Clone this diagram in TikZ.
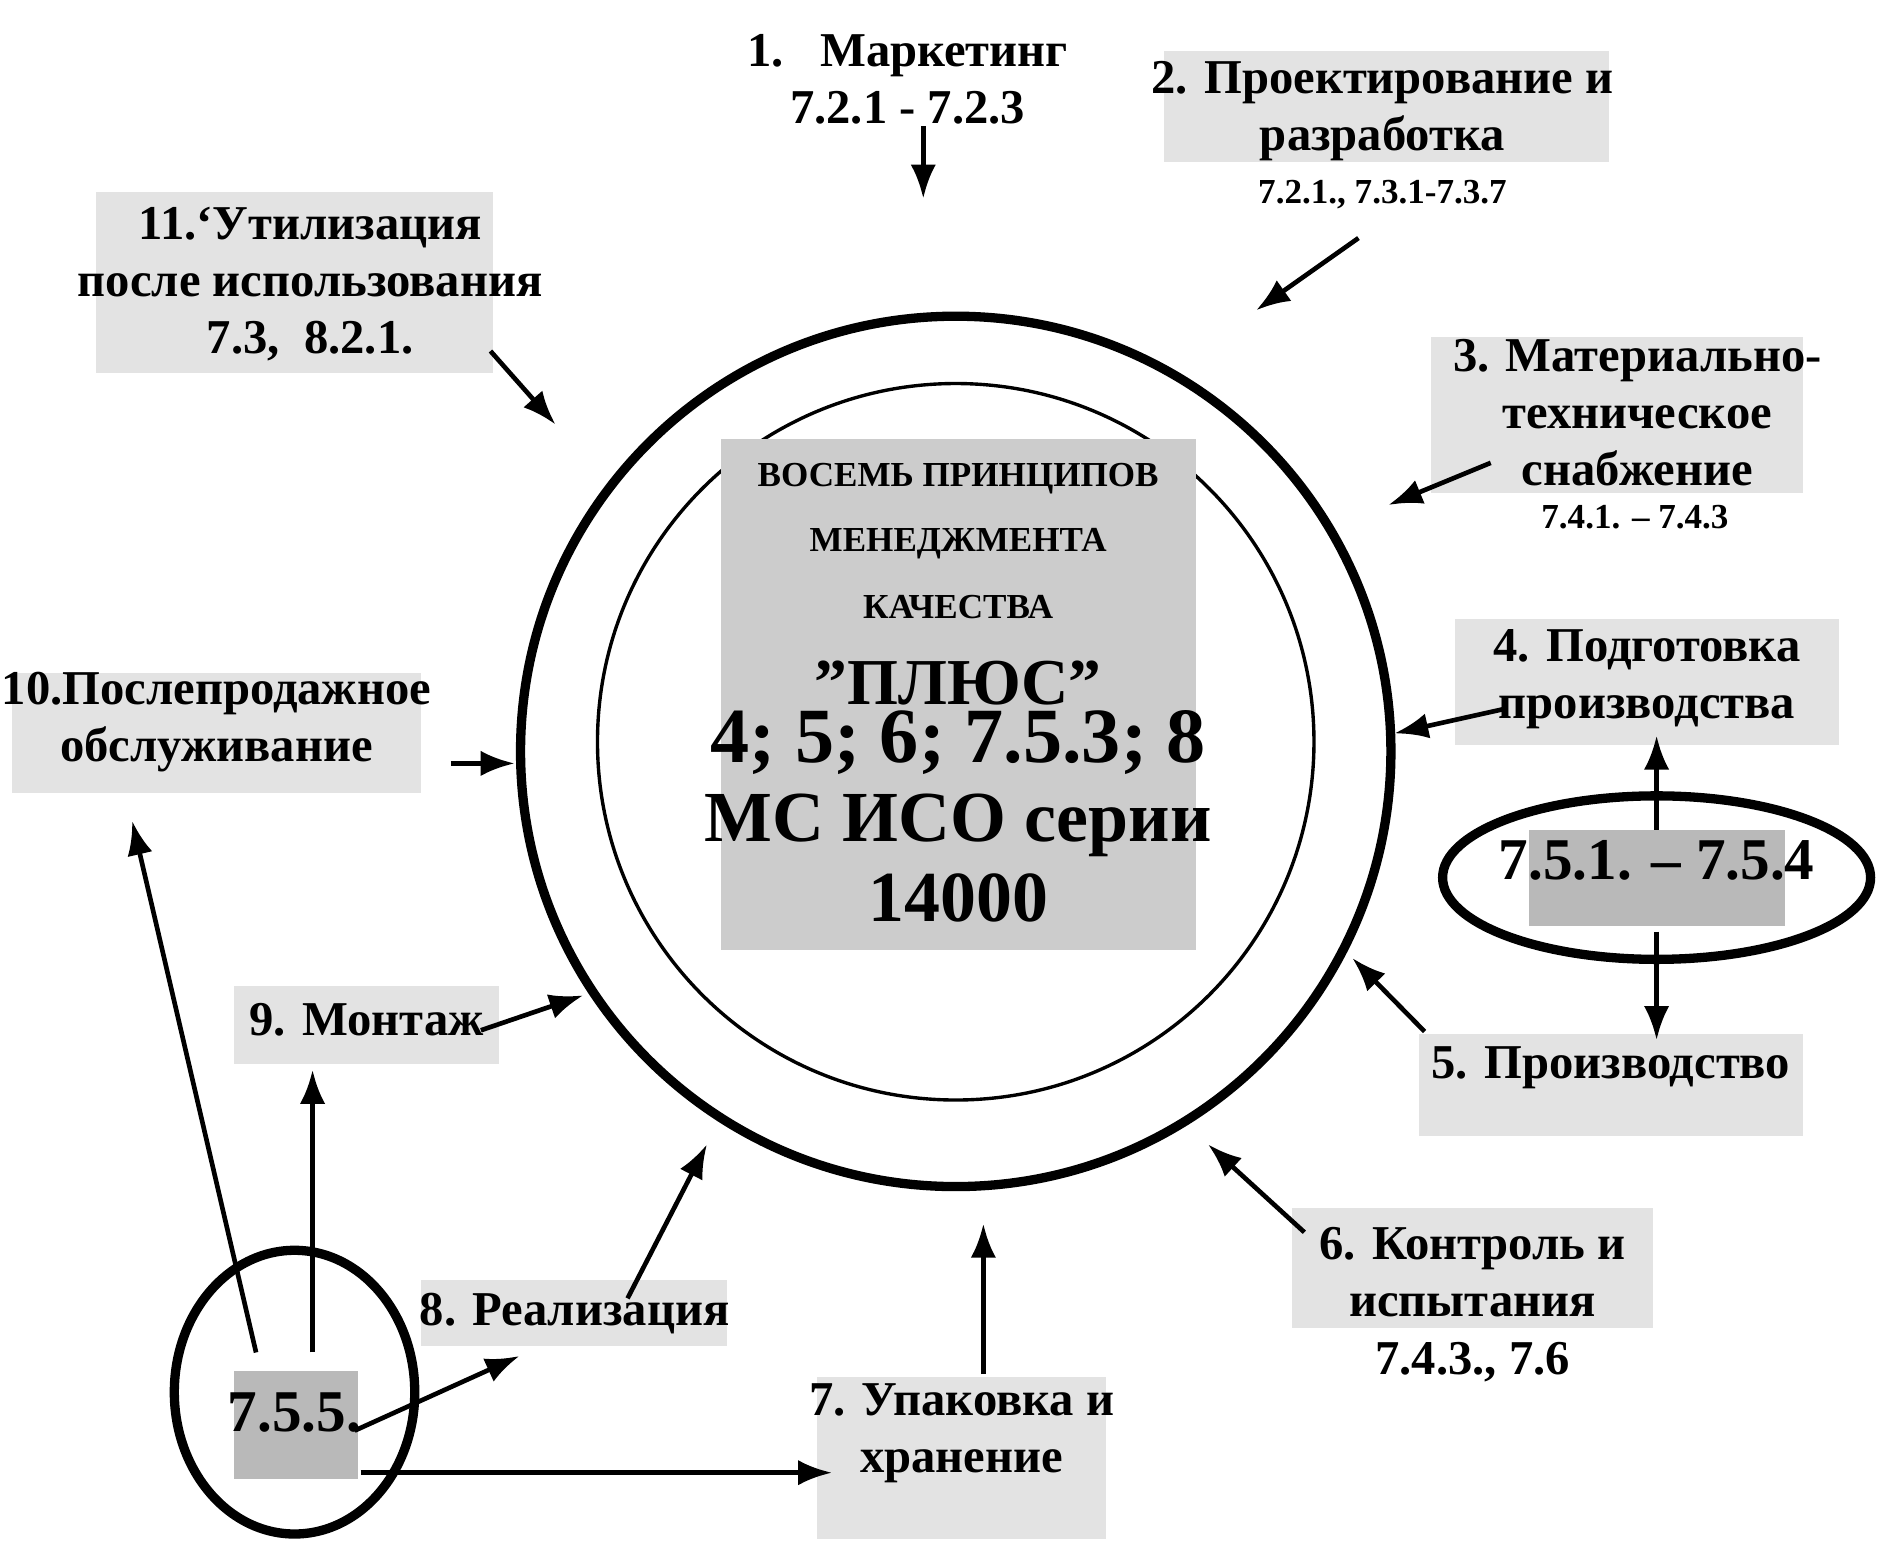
\documentclass[tikz,border=0pt]{standalone}
\usepackage{fontspec}
\setmainfont{Liberation Serif}
\usetikzlibrary{arrows.meta, positioning}

\begin{document}
\begin{tikzpicture}[x=0.01cm, y=-0.01cm, font=\fontsize{11.5}{13.5}\selectfont\bfseries,
  lbl/.style={align=center, inner sep=2pt},
  shade/.style={fill=gray!22},
  small/.style={align=center, font=\fontsize{8.3}{10}\selectfont\bfseries},
  arr/.style={-{Latex[length=8pt,width=6pt]}, line width=1.1pt}]

            \useasboundingbox (0,0) rectangle (1563,1301.5);

            % circles
            \draw[line width=2.2pt] (795,625) circle (362);
            \draw[line width=0.8pt] (795,617) circle (298);
            \fill[gray!40] (600,365) rectangle (995,790);
            \node[small] (p1) at (797,398) {ВОСЕМЬ ПРИНЦИПОВ};
            \node[small] (p2) at (797,452) {МЕНЕДЖМЕНТА};
            \node[small] (p3) at (797,505) {КАЧЕСТВА};
            \node[font=\fontsize{15.5}{17}\selectfont\bfseries] (plus) at (797,568) {\symbol{34}ПЛЮС\symbol{34}};
            \node[font=\fontsize{18.5}{20}\selectfont\bfseries] (nums) at (797,618) {4; 5; 6; 7.5.3; 8};
            \node[font=\fontsize{17}{19}\selectfont\bfseries, align=center] (iso) at (797,714) {МС ИСО серии\\14000};

            % labels
            \node[lbl] (L1) at (755,66) {1.\ \ \ Маркетинг\\7.2.1 - 7.2.3};
            \fill[shade] (968,42) rectangle (1338,135);
            \node[lbl] (L2) at (1150,92) {2. Проектирование и\\разработка};
            \node[small] (L2n) at (1150,162) {7.2.1., 7.3.1-7.3.7};
            \fill[shade] (1190,280) rectangle (1500,410);
            \node[lbl] (L3) at (1362,343) {3. Материально-\\техническое\\снабжение};
            \node[small] (L3n) at (1360,430) {7.4.1. -- 7.4.3};
            \fill[shade] (1210,515) rectangle (1530,620);
            \node[lbl] (L4) at (1370,565) {4. Подготовка\\производства};
            \fill[shade] (1180,860) rectangle (1500,945);
            \node[lbl] (L5) at (1340,888) {5. Производство};
            \fill[shade] (1075,1005) rectangle (1375,1105);
            \node[lbl] (L6) at (1225,1058) {6. Контроль и\\испытания};
            \node[lbl] (L6n) at (1225,1133) {7.4.3., 7.6};
            \fill[shade] (680,1145) rectangle (920,1280);
            \node[lbl] (L7) at (800,1192) {7. Упаковка и\\хранение};
            \fill[shade] (350,1065) rectangle (605,1120);
            \node[lbl] (L8) at (478,1093) {8. Реализация};
            \fill[shade] (195,820) rectangle (415,885);
            \node[lbl] (L9) at (305,848) {9. Монтаж};
            \fill[shade] (10,560) rectangle (350,660);
            \node[lbl] (L10) at (180,601) {10.Послепродажное\\обслуживание};
            \fill[shade] (80,160) rectangle (410,310);
            \node[lbl] (L11) at (258,236) {11.`Утилизация\\после использования\\7.3,\ \ 8.2.1.};

            % 7.5.1 - 7.5.4
            \draw[line width=2.2pt] (1378,730) ellipse (178 and 68);
            \fill[gray!55] (1272,690) rectangle (1485,770);
            \node[font=\fontsize{14}{16}\selectfont\bfseries] (E1) at (1378,716) {7.5.1. -- 7.5.4};

            % 7.5.5
            \draw[line width=2.2pt] (245,1158) ellipse (100 and 118);
            \fill[gray!55] (195,1140) rectangle (298,1230);
            \node[font=\fontsize{14}{16}\selectfont\bfseries] (E2) at (245,1175) {7.5.5.};

            % arrow ends
            \coordinate (t1) at (768,165);
            \coordinate (t2) at (1045,258);
            \coordinate (t3) at (1155,420);
            \coordinate (t4) at (1160,610);
            \coordinate (t5) at (1125,797);
            \coordinate (t6) at (1005,952);
            \coordinate (t7) at (818,1018);
            \coordinate (t8) at (588,952);
            \coordinate (t9) at (485,828);
            \coordinate (t10) at (428,635);
            \coordinate (t11) at (462,353);

            \draw[arr] (768,105) -- (t1);
            \draw[arr] (1130,198) -- (t2);
            \draw[arr] (1240,385) -- (t3);
            \draw[arr] (1250,590) -- (t4);
            \draw[arr] (1185,858) -- (t5);
            \draw[arr] (1085,1025) -- (t6);
            \draw[arr] (818,1143) -- (t7);
            \draw[arr] (522,1080) -- (t8);
            \draw[arr] (400,857) -- (t9);
            \draw[arr] (375,635) -- (t10);
            \draw[arr] (408,292) -- (t11);

            \draw[arr] (1378,690) -- (1378,612);
            \draw[arr] (1378,775) -- (1378,865);
            \draw[arr] (213,1125) -- (110,683);
            \draw[arr] (260,1125) -- (260,890);
            \draw[arr] (295,1190) -- (432,1128);
            \draw[arr] (300,1225) -- (692,1225);

        \end{tikzpicture}
\end{document}
